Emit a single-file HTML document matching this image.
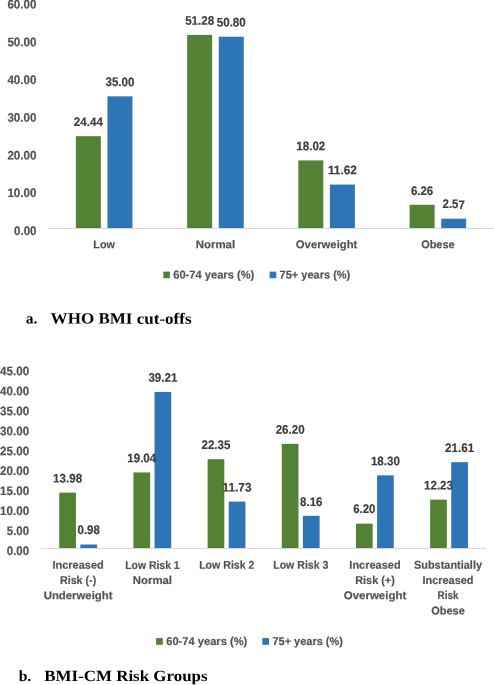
<!DOCTYPE html>
<html><head><meta charset="utf-8"><title>BMI charts</title>
<style>
html,body{margin:0;padding:0;background:#fff;}
body{width:494px;height:685px;overflow:hidden;}
svg{display:block;}
.l,.d,.c{font-family:"Liberation Sans",Arial,sans-serif;font-weight:bold;font-size:12.4px;fill:#525252;stroke:#525252;stroke-width:0.18px;stroke-linejoin:round;text-rendering:geometricPrecision;}
.d{fill:#3c3c3c;stroke:#3c3c3c;}
.c{font-size:11.3px;}
.t{font-family:"Liberation Serif","Times New Roman",serif;font-weight:bold;font-size:15.6px;fill:#000;text-rendering:geometricPrecision;}
</style></head><body>
<svg width="494" height="685" viewBox="0 0 494 685">
<rect width="494" height="685" fill="#fff"/>
<rect x="48.1" y="228" width="445.9" height="1" fill="#D9D9D9"/>
<rect x="75.85" y="136.19" width="25.00" height="92.31" fill="#548235"/>
<rect x="107.45" y="96.34" width="25.00" height="132.16" fill="#2E75B6"/>
<text class="c" x="104.15" y="248.30" transform="rotate(0.03 104.15 248.30)" text-anchor="middle" textLength="21.6" lengthAdjust="spacingAndGlyphs">Low</text>
<rect x="187.15" y="34.92" width="25.00" height="193.58" fill="#548235"/>
<rect x="218.75" y="36.73" width="25.00" height="191.77" fill="#2E75B6"/>
<text class="c" x="215.45" y="248.30" transform="rotate(0.03 215.45 248.30)" text-anchor="middle" textLength="39.3" lengthAdjust="spacingAndGlyphs">Normal</text>
<rect x="298.30" y="160.41" width="25.00" height="68.09" fill="#548235"/>
<rect x="329.90" y="184.56" width="25.00" height="43.94" fill="#2E75B6"/>
<text class="c" x="326.60" y="248.30" transform="rotate(0.03 326.60 248.30)" text-anchor="middle" textLength="61.6" lengthAdjust="spacingAndGlyphs">Overweight</text>
<rect x="409.60" y="204.78" width="25.00" height="23.72" fill="#548235"/>
<rect x="441.20" y="218.70" width="25.00" height="9.80" fill="#2E75B6"/>
<text class="c" x="437.90" y="248.30" transform="rotate(0.03 437.90 248.30)" text-anchor="middle" textLength="33.5" lengthAdjust="spacingAndGlyphs">Obese</text>
<rect x="48.1" y="228" width="445.9" height="1" fill="#D9D9D9"/>
<text class="d" x="88.35" y="125.99" transform="rotate(0.03 88.35 125.99)" text-anchor="middle" textLength="29.0" lengthAdjust="spacingAndGlyphs">24.44</text>
<text class="d" x="119.95" y="86.14" transform="rotate(0.03 119.95 86.14)" text-anchor="middle" textLength="29.0" lengthAdjust="spacingAndGlyphs">35.00</text>
<text class="d" x="199.65" y="24.72" transform="rotate(0.03 199.65 24.72)" text-anchor="middle" textLength="29.0" lengthAdjust="spacingAndGlyphs">51.28</text>
<text class="d" x="231.25" y="26.53" transform="rotate(0.03 231.25 26.53)" text-anchor="middle" textLength="29.0" lengthAdjust="spacingAndGlyphs">50.80</text>
<text class="d" x="310.80" y="150.21" transform="rotate(0.03 310.80 150.21)" text-anchor="middle" textLength="29.0" lengthAdjust="spacingAndGlyphs">18.02</text>
<text class="d" x="342.40" y="174.36" transform="rotate(0.03 342.40 174.36)" text-anchor="middle" textLength="29.0" lengthAdjust="spacingAndGlyphs">11.62</text>
<text class="d" x="422.10" y="194.58" transform="rotate(0.03 422.10 194.58)" text-anchor="middle" textLength="22.3" lengthAdjust="spacingAndGlyphs">6.26</text>
<text class="d" x="453.70" y="208.50" transform="rotate(0.03 453.70 208.50)" text-anchor="middle" textLength="22.3" lengthAdjust="spacingAndGlyphs">2.57</text>
<text class="l" x="36.40" y="234.80" transform="rotate(0.03 36.40 234.80)" text-anchor="end" textLength="22.3" lengthAdjust="spacingAndGlyphs">0.00</text>
<text class="l" x="36.40" y="197.10" transform="rotate(0.03 36.40 197.10)" text-anchor="end" textLength="29.0" lengthAdjust="spacingAndGlyphs">10.00</text>
<text class="l" x="36.40" y="159.40" transform="rotate(0.03 36.40 159.40)" text-anchor="end" textLength="29.0" lengthAdjust="spacingAndGlyphs">20.00</text>
<text class="l" x="36.40" y="121.70" transform="rotate(0.03 36.40 121.70)" text-anchor="end" textLength="29.0" lengthAdjust="spacingAndGlyphs">30.00</text>
<text class="l" x="36.40" y="84.00" transform="rotate(0.03 36.40 84.00)" text-anchor="end" textLength="29.0" lengthAdjust="spacingAndGlyphs">40.00</text>
<text class="l" x="36.40" y="46.30" transform="rotate(0.03 36.40 46.30)" text-anchor="end" textLength="29.0" lengthAdjust="spacingAndGlyphs">50.00</text>
<text class="l" x="36.40" y="8.60" transform="rotate(0.03 36.40 8.60)" text-anchor="end" textLength="29.0" lengthAdjust="spacingAndGlyphs">60.00</text>
<rect x="163.30" y="271.60" width="6.60" height="6.60" fill="#548235"/>
<text class="c" x="173.20" y="278.40" transform="rotate(0.03 173.20 278.40)" text-anchor="start" textLength="81.1" lengthAdjust="spacingAndGlyphs">60-74 years (%)</text>
<rect x="269.60" y="271.60" width="6.70" height="6.60" fill="#2E75B6"/>
<text class="c" x="279.50" y="278.40" transform="rotate(0.03 279.50 278.40)" text-anchor="start" textLength="70.8" lengthAdjust="spacingAndGlyphs">75+ years (%)</text>
<text class="t" x="25.80" y="323.60" transform="rotate(0.03 25.80 323.60)" text-anchor="start">a.</text>
<text class="t" x="50.60" y="323.60" transform="rotate(0.03 50.60 323.60)" text-anchor="start" textLength="141.0" lengthAdjust="spacingAndGlyphs">WHO BMI cut-offs</text>
<rect x="41.1" y="548" width="445.0" height="1" fill="#D9D9D9"/>
<rect x="59.25" y="492.62" width="16.70" height="55.88" fill="#548235"/>
<rect x="80.35" y="544.49" width="16.70" height="4.01" fill="#2E75B6"/>
<rect x="133.43" y="472.43" width="16.70" height="76.07" fill="#548235"/>
<rect x="154.53" y="391.95" width="16.70" height="156.55" fill="#2E75B6"/>
<rect x="207.61" y="459.22" width="16.70" height="89.28" fill="#548235"/>
<rect x="228.71" y="501.60" width="16.70" height="46.90" fill="#2E75B6"/>
<rect x="281.79" y="443.86" width="16.70" height="104.64" fill="#548235"/>
<rect x="302.89" y="515.84" width="16.70" height="32.66" fill="#2E75B6"/>
<rect x="355.97" y="523.66" width="16.70" height="24.84" fill="#548235"/>
<rect x="377.07" y="475.38" width="16.70" height="73.12" fill="#2E75B6"/>
<rect x="430.15" y="499.60" width="16.70" height="48.90" fill="#548235"/>
<rect x="451.25" y="462.18" width="16.70" height="86.32" fill="#2E75B6"/>
<rect x="41.1" y="548" width="445.0" height="1" fill="#D9D9D9"/>
<text class="d" x="67.60" y="482.42" transform="rotate(0.03 67.60 482.42)" text-anchor="middle" textLength="29.0" lengthAdjust="spacingAndGlyphs">13.98</text>
<text class="d" x="88.70" y="534.29" transform="rotate(0.03 88.70 534.29)" text-anchor="middle" textLength="22.3" lengthAdjust="spacingAndGlyphs">0.98</text>
<text class="d" x="141.78" y="462.23" transform="rotate(0.03 141.78 462.23)" text-anchor="middle" textLength="29.0" lengthAdjust="spacingAndGlyphs">19.04</text>
<text class="d" x="162.88" y="381.75" transform="rotate(0.03 162.88 381.75)" text-anchor="middle" textLength="29.0" lengthAdjust="spacingAndGlyphs">39.21</text>
<text class="d" x="215.96" y="449.02" transform="rotate(0.03 215.96 449.02)" text-anchor="middle" textLength="29.0" lengthAdjust="spacingAndGlyphs">22.35</text>
<text class="d" x="237.06" y="491.40" transform="rotate(0.03 237.06 491.40)" text-anchor="middle" textLength="29.0" lengthAdjust="spacingAndGlyphs">11.73</text>
<text class="d" x="290.14" y="433.66" transform="rotate(0.03 290.14 433.66)" text-anchor="middle" textLength="29.0" lengthAdjust="spacingAndGlyphs">26.20</text>
<text class="d" x="311.24" y="505.64" transform="rotate(0.03 311.24 505.64)" text-anchor="middle" textLength="22.3" lengthAdjust="spacingAndGlyphs">8.16</text>
<text class="d" x="364.32" y="513.46" transform="rotate(0.03 364.32 513.46)" text-anchor="middle" textLength="22.3" lengthAdjust="spacingAndGlyphs">6.20</text>
<text class="d" x="385.42" y="465.18" transform="rotate(0.03 385.42 465.18)" text-anchor="middle" textLength="29.0" lengthAdjust="spacingAndGlyphs">18.30</text>
<text class="d" x="438.50" y="489.40" transform="rotate(0.03 438.50 489.40)" text-anchor="middle" textLength="29.0" lengthAdjust="spacingAndGlyphs">12.23</text>
<text class="d" x="459.60" y="451.98" transform="rotate(0.03 459.60 451.98)" text-anchor="middle" textLength="29.0" lengthAdjust="spacingAndGlyphs">21.61</text>
<text class="c" x="78.10" y="568.70" transform="rotate(0.03 78.10 568.70)" text-anchor="middle" textLength="51.2" lengthAdjust="spacingAndGlyphs">Increased</text>
<text class="c" x="78.10" y="584.00" transform="rotate(0.03 78.10 584.00)" text-anchor="middle" textLength="36.2" lengthAdjust="spacingAndGlyphs">Risk (-)</text>
<text class="c" x="78.10" y="599.30" transform="rotate(0.03 78.10 599.30)" text-anchor="middle" textLength="68.8" lengthAdjust="spacingAndGlyphs">Underweight</text>
<text class="c" x="152.40" y="568.70" transform="rotate(0.03 152.40 568.70)" text-anchor="middle" textLength="54.5" lengthAdjust="spacingAndGlyphs">Low Risk 1</text>
<text class="c" x="152.40" y="584.00" transform="rotate(0.03 152.40 584.00)" text-anchor="middle" textLength="39.2" lengthAdjust="spacingAndGlyphs">Normal</text>
<text class="c" x="226.80" y="568.70" transform="rotate(0.03 226.80 568.70)" text-anchor="middle" textLength="55.3" lengthAdjust="spacingAndGlyphs">Low Risk 2</text>
<text class="c" x="300.80" y="568.70" transform="rotate(0.03 300.80 568.70)" text-anchor="middle" textLength="55.2" lengthAdjust="spacingAndGlyphs">Low Risk 3</text>
<text class="c" x="375.00" y="568.70" transform="rotate(0.03 375.00 568.70)" text-anchor="middle" textLength="51.3" lengthAdjust="spacingAndGlyphs">Increased</text>
<text class="c" x="375.00" y="584.00" transform="rotate(0.03 375.00 584.00)" text-anchor="middle" textLength="39.5" lengthAdjust="spacingAndGlyphs">Risk (+)</text>
<text class="c" x="375.00" y="599.30" transform="rotate(0.03 375.00 599.30)" text-anchor="middle" textLength="62.5" lengthAdjust="spacingAndGlyphs">Overweight</text>
<text class="c" x="448.00" y="568.70" transform="rotate(0.03 448.00 568.70)" text-anchor="middle" textLength="68.1" lengthAdjust="spacingAndGlyphs">Substantially</text>
<text class="c" x="448.00" y="584.00" transform="rotate(0.03 448.00 584.00)" text-anchor="middle" textLength="51.1" lengthAdjust="spacingAndGlyphs">Increased</text>
<text class="c" x="448.00" y="599.30" transform="rotate(0.03 448.00 599.30)" text-anchor="middle" textLength="21.0" lengthAdjust="spacingAndGlyphs">Risk</text>
<text class="c" x="448.00" y="614.60" transform="rotate(0.03 448.00 614.60)" text-anchor="middle" textLength="33.6" lengthAdjust="spacingAndGlyphs">Obese</text>
<text class="l" x="29.10" y="554.95" transform="rotate(0.03 29.10 554.95)" text-anchor="end" textLength="22.3" lengthAdjust="spacingAndGlyphs">0.00</text>
<text class="l" x="29.10" y="534.99" transform="rotate(0.03 29.10 534.99)" text-anchor="end" textLength="22.3" lengthAdjust="spacingAndGlyphs">5.00</text>
<text class="l" x="29.10" y="515.03" transform="rotate(0.03 29.10 515.03)" text-anchor="end" textLength="29.0" lengthAdjust="spacingAndGlyphs">10.00</text>
<text class="l" x="29.10" y="495.07" transform="rotate(0.03 29.10 495.07)" text-anchor="end" textLength="29.0" lengthAdjust="spacingAndGlyphs">15.00</text>
<text class="l" x="29.10" y="475.11" transform="rotate(0.03 29.10 475.11)" text-anchor="end" textLength="29.0" lengthAdjust="spacingAndGlyphs">20.00</text>
<text class="l" x="29.10" y="455.15" transform="rotate(0.03 29.10 455.15)" text-anchor="end" textLength="29.0" lengthAdjust="spacingAndGlyphs">25.00</text>
<text class="l" x="29.10" y="435.19" transform="rotate(0.03 29.10 435.19)" text-anchor="end" textLength="29.0" lengthAdjust="spacingAndGlyphs">30.00</text>
<text class="l" x="29.10" y="415.23" transform="rotate(0.03 29.10 415.23)" text-anchor="end" textLength="29.0" lengthAdjust="spacingAndGlyphs">35.00</text>
<text class="l" x="29.10" y="395.27" transform="rotate(0.03 29.10 395.27)" text-anchor="end" textLength="29.0" lengthAdjust="spacingAndGlyphs">40.00</text>
<text class="l" x="29.10" y="375.31" transform="rotate(0.03 29.10 375.31)" text-anchor="end" textLength="29.0" lengthAdjust="spacingAndGlyphs">45.00</text>
<rect x="156.10" y="638.10" width="6.70" height="6.70" fill="#548235"/>
<text class="c" x="166.20" y="645.00" transform="rotate(0.03 166.20 645.00)" text-anchor="start" textLength="81.1" lengthAdjust="spacingAndGlyphs">60-74 years (%)</text>
<rect x="262.30" y="638.10" width="6.70" height="6.70" fill="#2E75B6"/>
<text class="c" x="272.50" y="645.00" transform="rotate(0.03 272.50 645.00)" text-anchor="start" textLength="70.3" lengthAdjust="spacingAndGlyphs">75+ years (%)</text>
<text class="t" x="18.70" y="681.00" transform="rotate(0.03 18.70 681.00)" text-anchor="start">b.</text>
<text class="t" x="44.30" y="681.00" transform="rotate(0.03 44.30 681.00)" text-anchor="start" textLength="163.3" lengthAdjust="spacingAndGlyphs">BMI-CM Risk Groups</text>
</svg>
</body></html>
